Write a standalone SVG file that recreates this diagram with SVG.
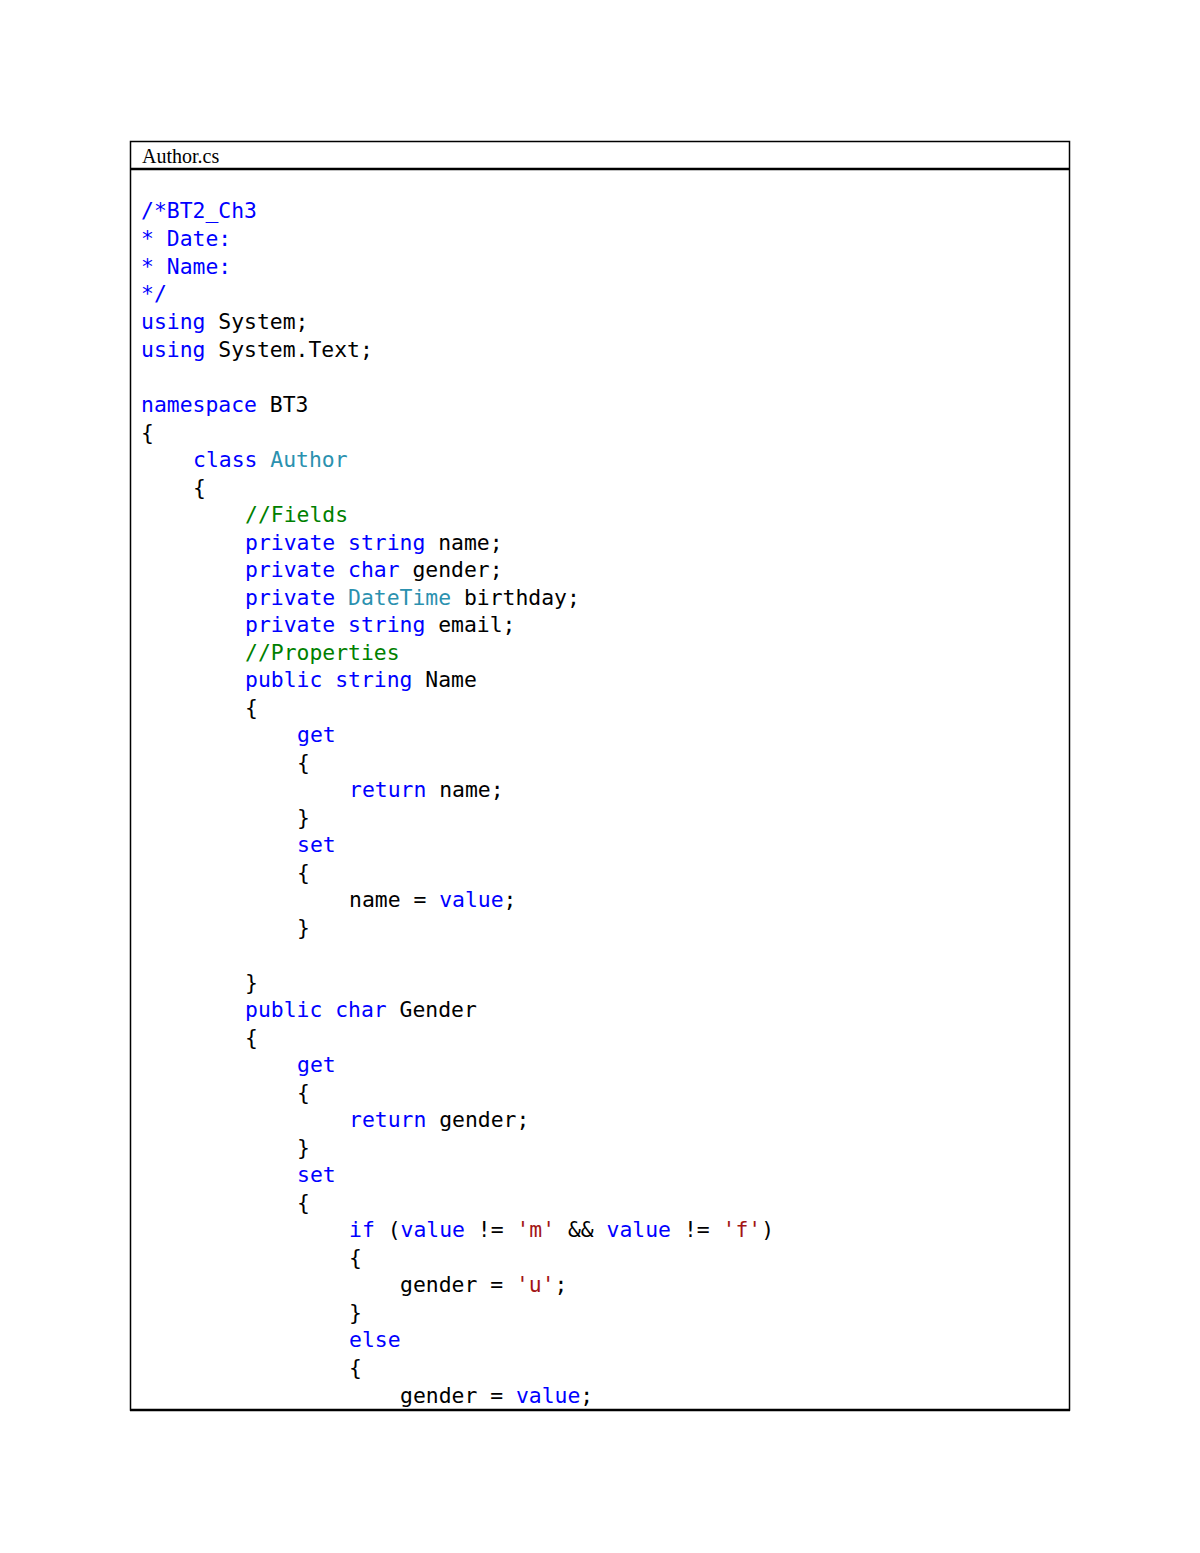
<svg xmlns="http://www.w3.org/2000/svg" width="1200" height="1553" viewBox="0 0 1200 1553">
<style>
text.c{font-family:"DejaVu Sans Mono","Liberation Mono",monospace;font-size:21.4px;fill:#000;white-space:pre}
.k{fill:#0000ff}.t{fill:#2b91af}.g{fill:#008000}.s{fill:#a31515}
</style>
<defs><clipPath id="cp"><rect x="131" y="170" width="938" height="1239"/></clipPath></defs>
<rect x="0" y="0" width="1200" height="1553" fill="#fff"/>
<g id="frame" fill="none" stroke="#000">
<rect x="130.5" y="141.5" width="939" height="1268.5" stroke-width="1.5"/>
<line x1="130" y1="169" x2="1070" y2="169" stroke-width="2.5"/>
<line x1="130" y1="1410" x2="1070" y2="1410" stroke-width="2.5"/>
</g>
<text x="142" y="163" font-family="Liberation Serif,serif" font-size="20">Author.cs</text>
<g clip-path="url(#cp)">
<text class="c" x="141" y="218"><tspan class="k">/*BT2_Ch3</tspan></text>
<text class="c" x="141" y="246"><tspan class="k">* Date:</tspan></text>
<text class="c" x="141" y="274"><tspan class="k">* Name:</tspan></text>
<text class="c" x="141" y="301"><tspan class="k">*/</tspan></text>
<text class="c" x="141" y="329"><tspan class="k">using</tspan> System;</text>
<text class="c" x="141" y="357"><tspan class="k">using</tspan> System.Text;</text>
<text class="c" x="141" y="412"><tspan class="k">namespace</tspan> BT3</text>
<text class="c" x="141" y="440">{</text>
<text class="c" x="193" y="467"><tspan class="k">class</tspan> <tspan class="t">Author</tspan></text>
<text class="c" x="193" y="495">{</text>
<text class="c" x="245" y="522"><tspan class="g">//Fields</tspan></text>
<text class="c" x="245" y="550"><tspan class="k">private</tspan> <tspan class="k">string</tspan> name;</text>
<text class="c" x="245" y="577"><tspan class="k">private</tspan> <tspan class="k">char</tspan> gender;</text>
<text class="c" x="245" y="605"><tspan class="k">private</tspan> <tspan class="t">DateTime</tspan> birthday;</text>
<text class="c" x="245" y="632"><tspan class="k">private</tspan> <tspan class="k">string</tspan> email;</text>
<text class="c" x="245" y="660"><tspan class="g">//Properties</tspan></text>
<text class="c" x="245" y="687"><tspan class="k">public</tspan> <tspan class="k">string</tspan> Name</text>
<text class="c" x="245" y="715">{</text>
<text class="c" x="297" y="742"><tspan class="k">get</tspan></text>
<text class="c" x="297" y="770">{</text>
<text class="c" x="349" y="797"><tspan class="k">return</tspan> name;</text>
<text class="c" x="297" y="825">}</text>
<text class="c" x="297" y="852"><tspan class="k">set</tspan></text>
<text class="c" x="297" y="880">{</text>
<text class="c" x="349" y="907">name = <tspan class="k">value</tspan>;</text>
<text class="c" x="297" y="935">}</text>
<text class="c" x="245" y="990">}</text>
<text class="c" x="245" y="1017"><tspan class="k">public</tspan> <tspan class="k">char</tspan> Gender</text>
<text class="c" x="245" y="1045">{</text>
<text class="c" x="297" y="1072"><tspan class="k">get</tspan></text>
<text class="c" x="297" y="1100">{</text>
<text class="c" x="349" y="1127"><tspan class="k">return</tspan> gender;</text>
<text class="c" x="297" y="1155">}</text>
<text class="c" x="297" y="1182"><tspan class="k">set</tspan></text>
<text class="c" x="297" y="1210">{</text>
<text class="c" x="349" y="1237"><tspan class="k">if</tspan> (<tspan class="k">value</tspan> != <tspan class="s">'m'</tspan> &amp;&amp; <tspan class="k">value</tspan> != <tspan class="s">'f'</tspan>)</text>
<text class="c" x="349" y="1265">{</text>
<text class="c" x="400" y="1292">gender = <tspan class="s">'u'</tspan>;</text>
<text class="c" x="349" y="1320">}</text>
<text class="c" x="349" y="1347"><tspan class="k">else</tspan></text>
<text class="c" x="349" y="1375">{</text>
<text class="c" x="400" y="1403">gender = <tspan class="k">value</tspan>;</text>
</g>
</svg>
